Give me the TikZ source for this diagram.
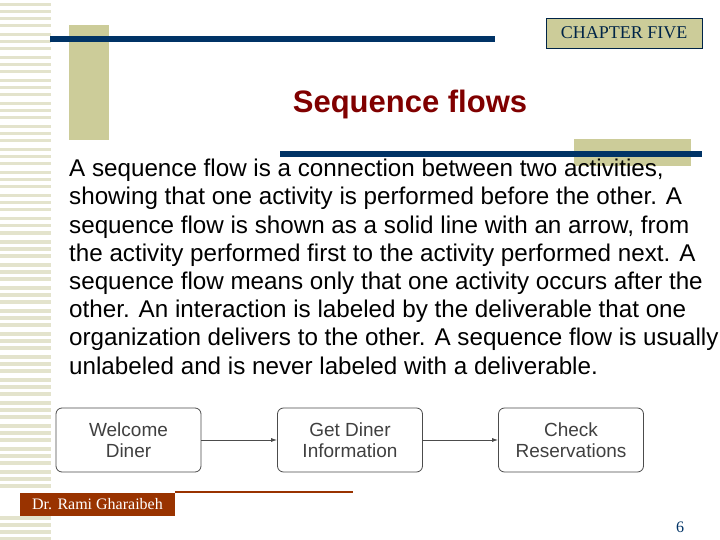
\documentclass[tikz,border=0pt]{standalone}
\usepackage{fontspec}
\setmainfont{Liberation Sans}
\newfontfamily\serif{Liberation Serif}
\usetikzlibrary{arrows.meta}
\definecolor{navy}{HTML}{003366}
\definecolor{khaki}{HTML}{CCCC99}
\definecolor{stripe}{HTML}{E3E3CC}
\definecolor{brown}{HTML}{993300}
\definecolor{title}{HTML}{800000}
\tikzset{x=1pt,y=-1pt,
 actbox/.style={draw=black!70,rounded corners=6pt,minimum width=145pt,minimum height=64pt,align=center,font=\fontsize{19}{21}\selectfont,text=black!75,line width=0.8pt},
 flow/.style={-{Latex[length=6pt,width=4pt]},black!70,line width=0.8pt},
 body/.style={anchor=west,font=\fontsize{24.2}{26}\selectfont,inner sep=0pt}}
\begin{document}
\begin{tikzpicture}
\useasboundingbox (0,0) rectangle (720,540);
\fill[white] (0,0) rectangle (720,540);
\foreach \y in {3,10,17,24,33,40,47,56,63,70,79,86,93,102,109,116,125,132,139,148,155,162,171,178,185,194,201,208,217,224,231,240,247,254,263,270,277,286,293,300,309,316,323,332,339,346,355,362,369,378,385,392,401,408,415,424,431,438,447,454,461,470,477,484,516,523,530,537}
  \fill[stripe] (0,\y) rectangle (51,\y+3.5);
\fill[khaki] (69,25) rectangle (109,140);
\fill[navy] (50,36) rectangle (495,42);
\node[draw=navy!70!black,fill=khaki,line width=0.8pt,minimum width=156pt,minimum height=30pt,inner sep=0pt,font=\serif\fontsize{18}{19}\selectfont,text=navy!70!black] (chap) at (624,33) {CHAPTER FIVE};
\node[font=\bfseries\fontsize{31}{34}\selectfont,text=title] (ttl) at (410,104) {Sequence flows};
\fill[khaki] (574,139) rectangle (691,166);
\fill[navy] (280,151) rectangle (702,157);
\node[body] (l1) at (69,170) {A sequence flow is a connection between two activities,};
\node[body] (l2) at (69,198) {showing that one activity is performed before the other. A};
\node[body] (l3) at (69,227) {sequence flow is shown as a solid line with an arrow, from};
\node[body] (l4) at (69,255) {the activity performed first to the activity performed next. A};
\node[body] (l5) at (69,283) {sequence flow means only that one activity occurs after the};
\node[body] (l6) at (69,311) {other. An interaction is labeled by the deliverable that one};
\node[body] (l7) at (69,339) {organization delivers to the other. A sequence flow is usually};
\node[body] (l8) at (69,366) {unlabeled and is never labeled with a deliverable.};
\node[actbox] (a) at (128.5,440) {Welcome\\Diner};
\node[actbox] (b) at (350,440) {Get Diner\\Information};
\node[actbox] (c) at (571,440) {Check\\Reservations};
\draw[flow] (a) -- (b);
\draw[flow] (b) -- (c);
\fill[brown] (175,491) rectangle (353,493);
\node[fill=brown,text=white,minimum width=155pt,minimum height=23pt,inner sep=0pt,font=\serif\fontsize{16}{17}\selectfont] (foot) at (97.5,504.5) {Dr. Rami Gharaibeh};
\node[font=\serif\fontsize{16}{17}\selectfont,text=navy] (pg) at (680,527) {6};
\end{tikzpicture}
\end{document}
